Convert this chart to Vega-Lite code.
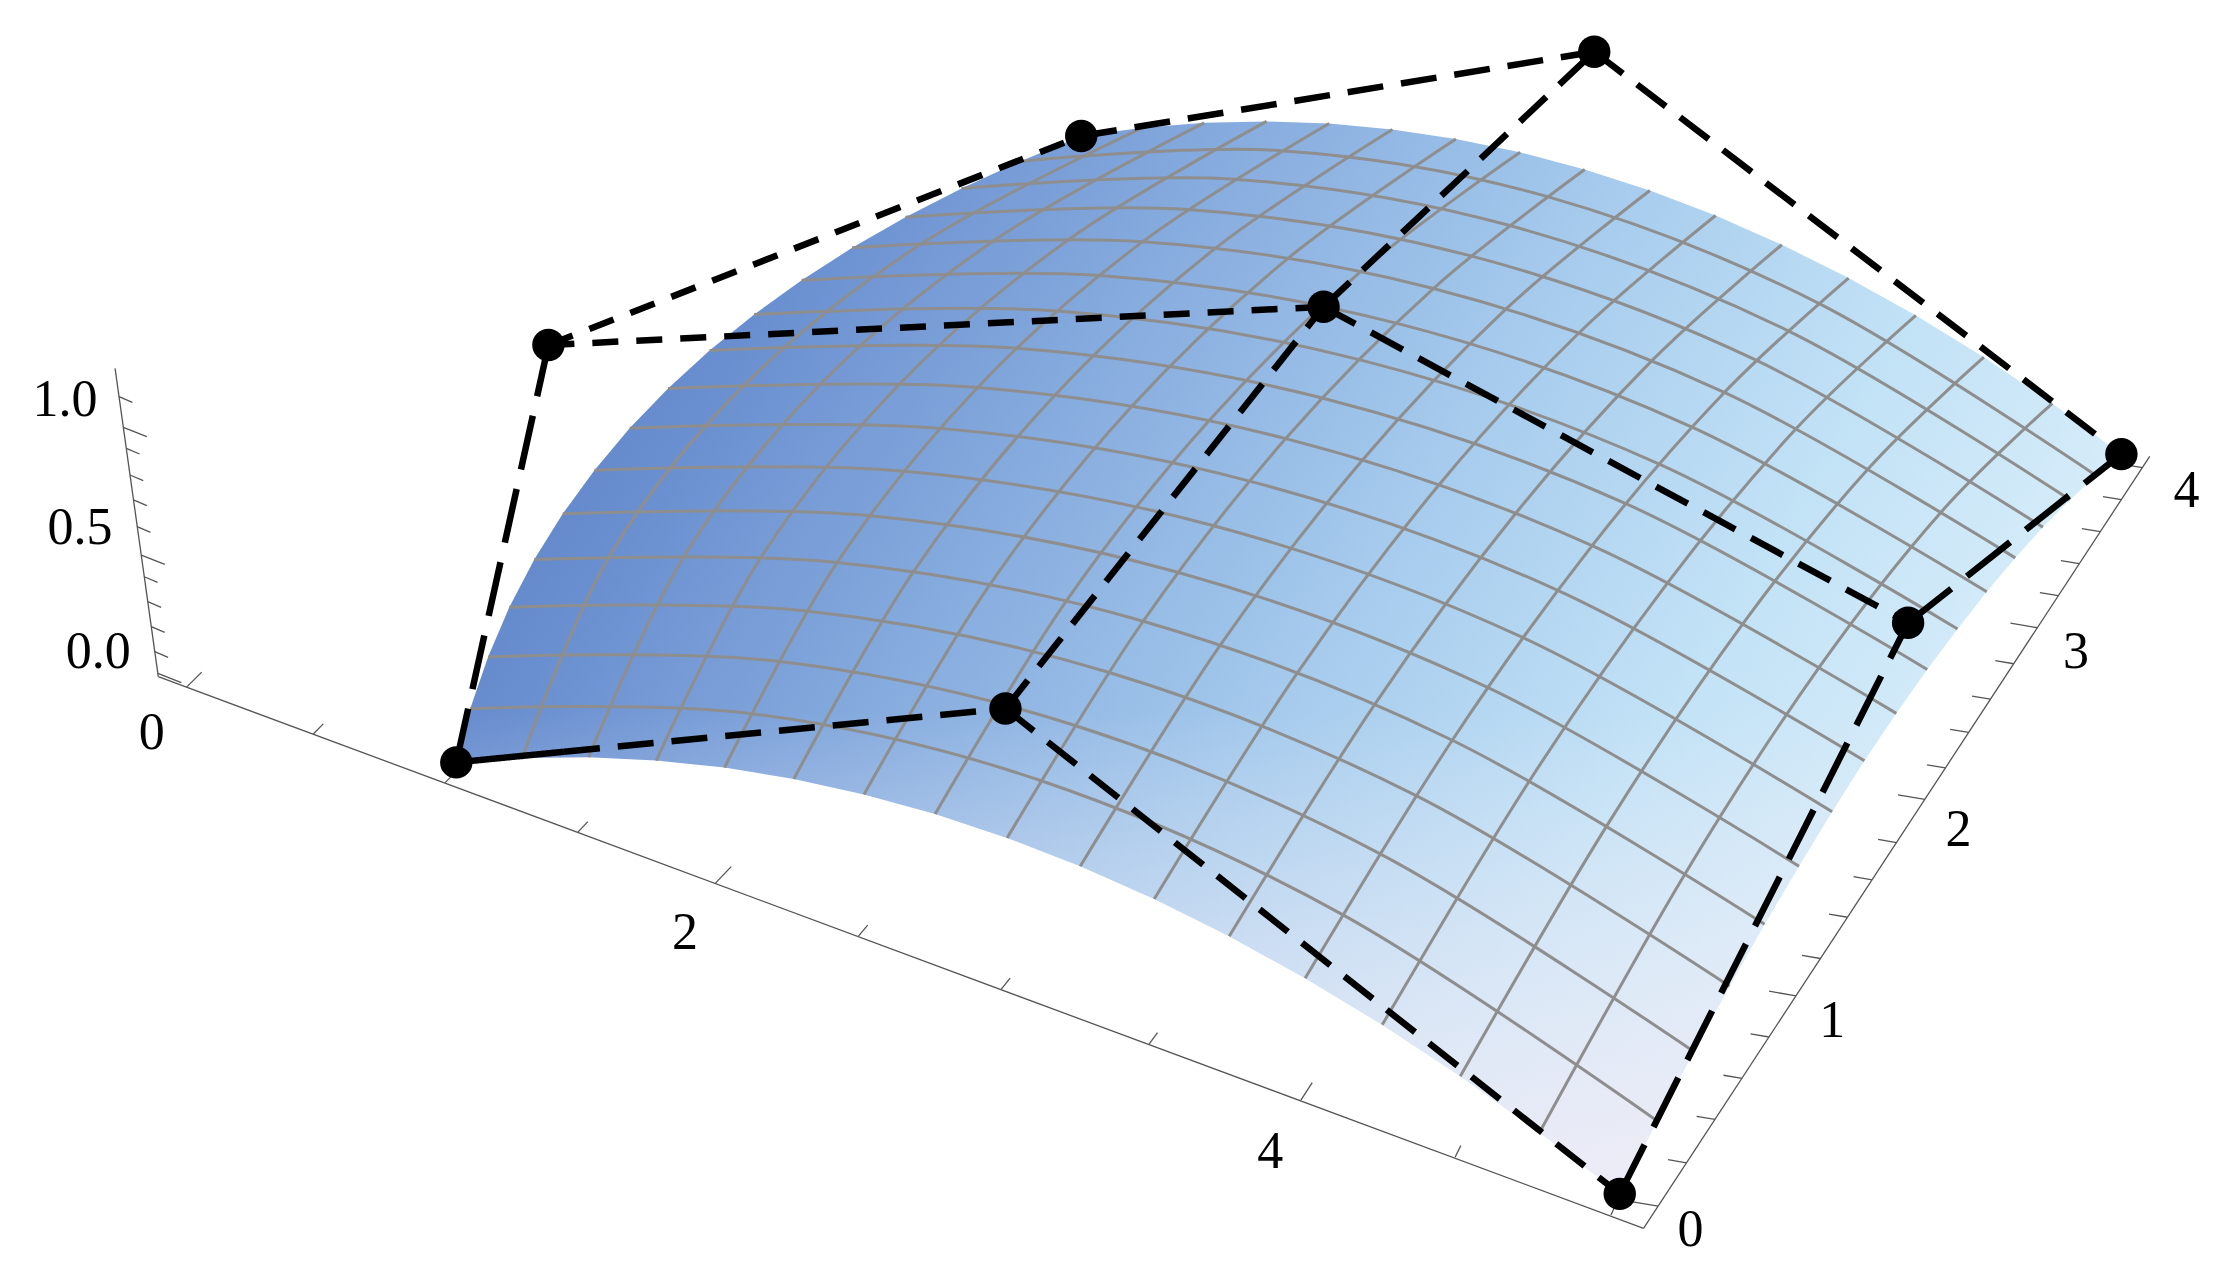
{
  "$schema": "https://vega.github.io/schema/vega-lite/v6.json",
  "width": 2222,
  "height": 1266,
  "padding": 0,
  "autosize": {"type": "none"},
  "background": "white",
  "config": {"view": {"stroke": null}},
  "datasets": {
    "surface": [
      {"o": 0, "x": 322, "y": 538}, {"o": 1, "x": 368.5, "y": 534.9}, {"o": 2, "x": 415.4, "y": 534.3},
      {"o": 3, "x": 463.1, "y": 536.7}, {"o": 4, "x": 511.3, "y": 541.7}, {"o": 5, "x": 560.2, "y": 549.7},
      {"o": 6, "x": 609.7, "y": 560.6}, {"o": 7, "x": 659.9, "y": 574.4}, {"o": 8, "x": 710.7, "y": 591.3},
      {"o": 9, "x": 762.3, "y": 611.3}, {"o": 10, "x": 814.5, "y": 634.4}, {"o": 11, "x": 867.4, "y": 660.7},
      {"o": 12, "x": 921.0, "y": 690.3}, {"o": 13, "x": 975.4, "y": 723.2}, {"o": 14, "x": 1030.5, "y": 759.5},
      {"o": 15, "x": 1086.4, "y": 799.2}, {"o": 16, "x": 1143, "y": 842.5}, {"o": 17, "x": 1169.4, "y": 791.0},
      {"o": 18, "x": 1195.3, "y": 742.1}, {"o": 19, "x": 1220.5, "y": 695.9}, {"o": 20, "x": 1245.2, "y": 652.3},
      {"o": 21, "x": 1269.5, "y": 611.3}, {"o": 22, "x": 1292.9, "y": 572.8}, {"o": 23, "x": 1315.7, "y": 536.8},
      {"o": 24, "x": 1338.2, "y": 503.4}, {"o": 25, "x": 1360.0, "y": 472.4}, {"o": 26, "x": 1381.4, "y": 443.9},
      {"o": 27, "x": 1402.0, "y": 417.6}, {"o": 28, "x": 1422.1, "y": 393.7}, {"o": 29, "x": 1441.6, "y": 372.0},
      {"o": 30, "x": 1460.8, "y": 352.7}, {"o": 31, "x": 1479.1, "y": 335.5}, {"o": 32, "x": 1497, "y": 320.5},
      {"o": 33, "x": 1448.3, "y": 284.7}, {"o": 34, "x": 1400.0, "y": 252.1}, {"o": 35, "x": 1352.0, "y": 222.6},
      {"o": 36, "x": 1304.5, "y": 196.2}, {"o": 37, "x": 1257.4, "y": 172.7}, {"o": 38, "x": 1210.7, "y": 152.1},
      {"o": 39, "x": 1164.3, "y": 134.4}, {"o": 40, "x": 1118.3, "y": 119.6}, {"o": 41, "x": 1072.7, "y": 107.5},
      {"o": 42, "x": 1027.4, "y": 98.1}, {"o": 43, "x": 982.6, "y": 91.4}, {"o": 44, "x": 938.0, "y": 87.2},
      {"o": 45, "x": 893.8, "y": 85.7}, {"o": 46, "x": 849.7, "y": 86.7}, {"o": 47, "x": 806.4, "y": 90.1},
      {"o": 48, "x": 763, "y": 96}, {"o": 49, "x": 719.8, "y": 113.9}, {"o": 50, "x": 678.5, "y": 133.0},
      {"o": 51, "x": 638.9, "y": 153.3}, {"o": 52, "x": 601.3, "y": 174.9}, {"o": 53, "x": 565.7, "y": 197.8},
      {"o": 54, "x": 532.2, "y": 221.9}, {"o": 55, "x": 500.7, "y": 247.4}, {"o": 56, "x": 471.4, "y": 274.2},
      {"o": 57, "x": 444.3, "y": 302.2}, {"o": 58, "x": 419.5, "y": 331.8}, {"o": 59, "x": 397.1, "y": 362.6},
      {"o": 60, "x": 377.0, "y": 394.9}, {"o": 61, "x": 359.4, "y": 428.5}, {"o": 62, "x": 344.4, "y": 463.6},
      {"o": 63, "x": 331.8, "y": 500.1}
    ],
    "grid": [
      {"id": "a1", "o": 0, "x": 368.5, "y": 534.9}, {"id": "a1", "o": 1, "x": 430.4, "y": 391.9}, {"id": "a1", "o": 2, "x": 526.2, "y": 270.7}, {"id": "a1", "o": 3, "x": 652.7, "y": 170.5}, {"id": "a1", "o": 4, "x": 806.4, "y": 90.1},
      {"id": "a2", "o": 0, "x": 415.4, "y": 534.3}, {"id": "a2", "o": 1, "x": 483.6, "y": 391.1}, {"id": "a2", "o": 2, "x": 580.7, "y": 269.4}, {"id": "a2", "o": 3, "x": 703.8, "y": 168.2}, {"id": "a2", "o": 4, "x": 849.7, "y": 86.7},
      {"id": "a3", "o": 0, "x": 463.1, "y": 536.7}, {"id": "a3", "o": 1, "x": 537.3, "y": 392.8}, {"id": "a3", "o": 2, "x": 635.5, "y": 270.3}, {"id": "a3", "o": 3, "x": 755.2, "y": 168.3}, {"id": "a3", "o": 4, "x": 893.8, "y": 85.7},
      {"id": "a4", "o": 0, "x": 511.3, "y": 541.7}, {"id": "a4", "o": 1, "x": 590.8, "y": 396.9}, {"id": "a4", "o": 2, "x": 689.9, "y": 273.4}, {"id": "a4", "o": 3, "x": 806.4, "y": 170.5}, {"id": "a4", "o": 4, "x": 938.0, "y": 87.2},
      {"id": "a5", "o": 0, "x": 560.2, "y": 549.7}, {"id": "a5", "o": 1, "x": 644.6, "y": 403.4}, {"id": "a5", "o": 2, "x": 744.4, "y": 278.9}, {"id": "a5", "o": 3, "x": 857.7, "y": 175.2}, {"id": "a5", "o": 4, "x": 982.6, "y": 91.4},
      {"id": "a6", "o": 0, "x": 609.7, "y": 560.6}, {"id": "a6", "o": 1, "x": 698.5, "y": 412.5}, {"id": "a6", "o": 2, "x": 798.7, "y": 286.7}, {"id": "a6", "o": 3, "x": 908.9, "y": 182.3}, {"id": "a6", "o": 4, "x": 1027.4, "y": 98.1},
      {"id": "a7", "o": 0, "x": 659.9, "y": 574.4}, {"id": "a7", "o": 1, "x": 752.5, "y": 424.1}, {"id": "a7", "o": 2, "x": 853.1, "y": 296.9}, {"id": "a7", "o": 3, "x": 960.2, "y": 191.7}, {"id": "a7", "o": 4, "x": 1072.7, "y": 107.5},
      {"id": "a8", "o": 0, "x": 710.7, "y": 591.3}, {"id": "a8", "o": 1, "x": 806.7, "y": 438.4}, {"id": "a8", "o": 2, "x": 907.3, "y": 309.5}, {"id": "a8", "o": 3, "x": 1011.5, "y": 203.6}, {"id": "a8", "o": 4, "x": 1118.3, "y": 119.6},
      {"id": "a9", "o": 0, "x": 762.3, "y": 611.3}, {"id": "a9", "o": 1, "x": 861.1, "y": 455.3}, {"id": "a9", "o": 2, "x": 961.5, "y": 324.6}, {"id": "a9", "o": 3, "x": 1062.8, "y": 218.0}, {"id": "a9", "o": 4, "x": 1164.3, "y": 134.4},
      {"id": "a10", "o": 0, "x": 814.5, "y": 634.4}, {"id": "a10", "o": 1, "x": 915.5, "y": 474.9}, {"id": "a10", "o": 2, "x": 1015.5, "y": 342.1}, {"id": "a10", "o": 3, "x": 1114.2, "y": 235.0}, {"id": "a10", "o": 4, "x": 1210.7, "y": 152.1},
      {"id": "a11", "o": 0, "x": 867.4, "y": 660.7}, {"id": "a11", "o": 1, "x": 970.0, "y": 497.2}, {"id": "a11", "o": 2, "x": 1069.5, "y": 362.4}, {"id": "a11", "o": 3, "x": 1165.5, "y": 254.7}, {"id": "a11", "o": 4, "x": 1257.4, "y": 172.7},
      {"id": "a12", "o": 0, "x": 921.0, "y": 690.3}, {"id": "a12", "o": 1, "x": 1024.8, "y": 522.4}, {"id": "a12", "o": 2, "x": 1123.4, "y": 385.2}, {"id": "a12", "o": 3, "x": 1216.8, "y": 277.0}, {"id": "a12", "o": 4, "x": 1304.5, "y": 196.2},
      {"id": "a13", "o": 0, "x": 975.4, "y": 723.2}, {"id": "a13", "o": 1, "x": 1079.7, "y": 550.4}, {"id": "a13", "o": 2, "x": 1177.3, "y": 410.6}, {"id": "a13", "o": 3, "x": 1268.1, "y": 301.9}, {"id": "a13", "o": 4, "x": 1352.0, "y": 222.6},
      {"id": "a14", "o": 0, "x": 1030.5, "y": 759.5}, {"id": "a14", "o": 1, "x": 1134.7, "y": 581.4}, {"id": "a14", "o": 2, "x": 1231.0, "y": 438.7}, {"id": "a14", "o": 3, "x": 1319.5, "y": 329.6}, {"id": "a14", "o": 4, "x": 1400.0, "y": 252.1},
      {"id": "a15", "o": 0, "x": 1086.4, "y": 799.2}, {"id": "a15", "o": 1, "x": 1189.9, "y": 615.3}, {"id": "a15", "o": 2, "x": 1284.7, "y": 469.6}, {"id": "a15", "o": 3, "x": 1370.8, "y": 360.2}, {"id": "a15", "o": 4, "x": 1448.3, "y": 284.7},
      {"id": "b1", "o": 0, "x": 331.8, "y": 500.1}, {"id": "b1", "o": 1, "x": 529.2, "y": 503.5}, {"id": "b1", "o": 2, "x": 734.2, "y": 550.8}, {"id": "b1", "o": 3, "x": 947.4, "y": 645.4}, {"id": "b1", "o": 4, "x": 1169.4, "y": 791.0},
      {"id": "b2", "o": 0, "x": 344.4, "y": 463.6}, {"id": "b2", "o": 1, "x": 548.5, "y": 466.6}, {"id": "b2", "o": 2, "x": 758.1, "y": 511.8}, {"id": "b2", "o": 3, "x": 973.6, "y": 602.4}, {"id": "b2", "o": 4, "x": 1195.3, "y": 742.1},
      {"id": "b3", "o": 0, "x": 359.4, "y": 428.5}, {"id": "b3", "o": 1, "x": 569.0, "y": 431.1}, {"id": "b3", "o": 2, "x": 782.2, "y": 474.4}, {"id": "b3", "o": 3, "x": 999.3, "y": 561.5}, {"id": "b3", "o": 4, "x": 1220.5, "y": 695.9},
      {"id": "b4", "o": 0, "x": 377.0, "y": 394.9}, {"id": "b4", "o": 1, "x": 590.8, "y": 396.9}, {"id": "b4", "o": 2, "x": 806.7, "y": 438.4}, {"id": "b4", "o": 3, "x": 1024.8, "y": 522.4}, {"id": "b4", "o": 4, "x": 1245.2, "y": 652.3},
      {"id": "b5", "o": 0, "x": 397.1, "y": 362.6}, {"id": "b5", "o": 1, "x": 613.9, "y": 364.0}, {"id": "b5", "o": 2, "x": 831.6, "y": 404.0}, {"id": "b5", "o": 3, "x": 1050.1, "y": 485.3}, {"id": "b5", "o": 4, "x": 1269.5, "y": 611.3},
      {"id": "b6", "o": 0, "x": 419.5, "y": 331.8}, {"id": "b6", "o": 1, "x": 638.1, "y": 332.6}, {"id": "b6", "o": 2, "x": 856.5, "y": 371.0}, {"id": "b6", "o": 3, "x": 1074.8, "y": 450.0}, {"id": "b6", "o": 4, "x": 1292.9, "y": 572.8},
      {"id": "b7", "o": 0, "x": 444.3, "y": 302.2}, {"id": "b7", "o": 1, "x": 663.4, "y": 302.3}, {"id": "b7", "o": 2, "x": 881.7, "y": 339.5}, {"id": "b7", "o": 3, "x": 1099.2, "y": 416.6}, {"id": "b7", "o": 4, "x": 1315.7, "y": 536.8},
      {"id": "b8", "o": 0, "x": 471.4, "y": 274.2}, {"id": "b8", "o": 1, "x": 689.9, "y": 273.5}, {"id": "b8", "o": 2, "x": 907.3, "y": 309.5}, {"id": "b8", "o": 3, "x": 1123.5, "y": 385.1}, {"id": "b8", "o": 4, "x": 1338.2, "y": 503.4},
      {"id": "b9", "o": 0, "x": 500.7, "y": 247.4}, {"id": "b9", "o": 1, "x": 717.5, "y": 245.8}, {"id": "b9", "o": 2, "x": 933.1, "y": 280.9}, {"id": "b9", "o": 3, "x": 1147.3, "y": 355.4}, {"id": "b9", "o": 4, "x": 1360.0, "y": 472.4},
      {"id": "b10", "o": 0, "x": 532.2, "y": 221.9}, {"id": "b10", "o": 1, "x": 746.2, "y": 219.5}, {"id": "b10", "o": 2, "x": 959.1, "y": 253.8}, {"id": "b10", "o": 3, "x": 1170.9, "y": 327.5}, {"id": "b10", "o": 4, "x": 1381.4, "y": 443.9},
      {"id": "b11", "o": 0, "x": 565.7, "y": 197.8}, {"id": "b11", "o": 1, "x": 775.8, "y": 194.4}, {"id": "b11", "o": 2, "x": 985.2, "y": 228.0}, {"id": "b11", "o": 3, "x": 1194.0, "y": 301.4}, {"id": "b11", "o": 4, "x": 1402.0, "y": 417.6},
      {"id": "b12", "o": 0, "x": 601.3, "y": 174.9}, {"id": "b12", "o": 1, "x": 806.4, "y": 170.6}, {"id": "b12", "o": 2, "x": 1011.5, "y": 203.6}, {"id": "b12", "o": 3, "x": 1216.8, "y": 276.9}, {"id": "b12", "o": 4, "x": 1422.1, "y": 393.7},
      {"id": "b13", "o": 0, "x": 638.9, "y": 153.3}, {"id": "b13", "o": 1, "x": 837.9, "y": 147.9}, {"id": "b13", "o": 2, "x": 1038.0, "y": 180.6}, {"id": "b13", "o": 3, "x": 1239.2, "y": 254.2}, {"id": "b13", "o": 4, "x": 1441.6, "y": 372.0},
      {"id": "b14", "o": 0, "x": 678.5, "y": 133.0}, {"id": "b14", "o": 1, "x": 870.5, "y": 126.5}, {"id": "b14", "o": 2, "x": 1064.8, "y": 159.0}, {"id": "b14", "o": 3, "x": 1261.5, "y": 233.3}, {"id": "b14", "o": 4, "x": 1460.8, "y": 352.7},
      {"id": "b15", "o": 0, "x": 719.8, "y": 113.9}, {"id": "b15", "o": 1, "x": 903.8, "y": 106.3}, {"id": "b15", "o": 2, "x": 1091.4, "y": 138.6}, {"id": "b15", "o": 3, "x": 1283.1, "y": 213.9}, {"id": "b15", "o": 4, "x": 1479.1, "y": 335.5}
    ],
    "frame": [
      {"id": "zax", "o": 0, "x": 81.2, "y": 259.9}, {"id": "zax", "o": 1, "x": 111.7, "y": 477.5},
      {"id": "xax", "o": 0, "x": 111.7, "y": 477.5}, {"id": "xax", "o": 1, "x": 1159.8, "y": 866.8},
      {"id": "yax", "o": 0, "x": 1159.8, "y": 866.8}, {"id": "yax", "o": 1, "x": 1517, "y": 322},
      {"id": "zt0", "o": 0, "x": 111.4, "y": 475.2}, {"id": "zt0", "o": 1, "x": 128.0, "y": 481.7},
      {"id": "zt1", "o": 0, "x": 109.2, "y": 459.9}, {"id": "zt1", "o": 1, "x": 118.6, "y": 463.9},
      {"id": "zt2", "o": 0, "x": 106.8, "y": 442.2}, {"id": "zt2", "o": 1, "x": 116.2, "y": 446.2},
      {"id": "zt3", "o": 0, "x": 104.3, "y": 424.6}, {"id": "zt3", "o": 1, "x": 113.7, "y": 428.6},
      {"id": "zt4", "o": 0, "x": 101.8, "y": 407.0}, {"id": "zt4", "o": 1, "x": 111.2, "y": 411.0},
      {"id": "zt5", "o": 0, "x": 99.7, "y": 391.7}, {"id": "zt5", "o": 1, "x": 116.3, "y": 398.2},
      {"id": "zt6", "o": 0, "x": 96.8, "y": 371.7}, {"id": "zt6", "o": 1, "x": 106.2, "y": 375.7},
      {"id": "zt7", "o": 0, "x": 94.2, "y": 352.8}, {"id": "zt7", "o": 1, "x": 103.6, "y": 356.8},
      {"id": "zt8", "o": 0, "x": 91.7, "y": 335.2}, {"id": "zt8", "o": 1, "x": 101.1, "y": 339.2},
      {"id": "zt9", "o": 0, "x": 89.1, "y": 316.4}, {"id": "zt9", "o": 1, "x": 98.5, "y": 320.4},
      {"id": "zt10", "o": 0, "x": 87.0, "y": 301.6}, {"id": "zt10", "o": 1, "x": 103.6, "y": 308.1},
      {"id": "zt11", "o": 0, "x": 84.0, "y": 279.9}, {"id": "zt11", "o": 1, "x": 93.4, "y": 283.9},
      {"id": "xt0", "o": 0, "x": 131.7, "y": 484.9}, {"id": "xt0", "o": 1, "x": 142.3, "y": 474.3},
      {"id": "xt1", "o": 0, "x": 221.1, "y": 518.0}, {"id": "xt1", "o": 1, "x": 228.1, "y": 510.8},
      {"id": "xt2", "o": 0, "x": 314.0, "y": 552.5}, {"id": "xt2", "o": 1, "x": 321.0, "y": 545.2},
      {"id": "xt3", "o": 0, "x": 407.8, "y": 587.2}, {"id": "xt3", "o": 1, "x": 414.8, "y": 579.8},
      {"id": "xt4", "o": 0, "x": 504.9, "y": 623.2}, {"id": "xt4", "o": 1, "x": 516.0, "y": 611.6},
      {"id": "xt5", "o": 0, "x": 605.8, "y": 660.6}, {"id": "xt5", "o": 1, "x": 612.3, "y": 652.9},
      {"id": "xt6", "o": 0, "x": 706.6, "y": 698.0}, {"id": "xt6", "o": 1, "x": 712.8, "y": 690.2},
      {"id": "xt7", "o": 0, "x": 811.0, "y": 736.7}, {"id": "xt7", "o": 1, "x": 816.8, "y": 728.7},
      {"id": "xt8", "o": 0, "x": 918.0, "y": 776.3}, {"id": "xt8", "o": 1, "x": 926.0, "y": 764.0},
      {"id": "xt9", "o": 0, "x": 1026.8, "y": 816.6}, {"id": "xt9", "o": 1, "x": 1030.9, "y": 808.4},
      {"id": "xt10", "o": 0, "x": 1136.8, "y": 857.4}, {"id": "xt10", "o": 1, "x": 1140.5, "y": 849.3},
      {"id": "yt0", "o": 0, "x": 1170.1, "y": 851.1}, {"id": "yt0", "o": 1, "x": 1151.1, "y": 847.9},
      {"id": "yt1", "o": 0, "x": 1190.1, "y": 820.6}, {"id": "yt1", "o": 1, "x": 1177.1, "y": 818.4},
      {"id": "yt2", "o": 0, "x": 1210.2, "y": 790.0}, {"id": "yt2", "o": 1, "x": 1197.2, "y": 787.8},
      {"id": "yt3", "o": 0, "x": 1229.2, "y": 761.0}, {"id": "yt3", "o": 1, "x": 1216.2, "y": 758.8},
      {"id": "yt4", "o": 0, "x": 1248.3, "y": 731.8}, {"id": "yt4", "o": 1, "x": 1235.3, "y": 729.6},
      {"id": "yt5", "o": 0, "x": 1267.4, "y": 702.7}, {"id": "yt5", "o": 1, "x": 1248.4, "y": 699.5},
      {"id": "yt6", "o": 0, "x": 1284.6, "y": 676.4}, {"id": "yt6", "o": 1, "x": 1271.6, "y": 674.2},
      {"id": "yt7", "o": 0, "x": 1303.7, "y": 647.3}, {"id": "yt7", "o": 1, "x": 1290.7, "y": 645.1},
      {"id": "yt8", "o": 0, "x": 1321.0, "y": 620.9}, {"id": "yt8", "o": 1, "x": 1308.0, "y": 618.7},
      {"id": "yt9", "o": 0, "x": 1338.3, "y": 594.6}, {"id": "yt9", "o": 1, "x": 1325.3, "y": 592.4},
      {"id": "yt10", "o": 0, "x": 1358.3, "y": 564.1}, {"id": "yt10", "o": 1, "x": 1339.3, "y": 560.9},
      {"id": "yt11", "o": 0, "x": 1372.8, "y": 541.9}, {"id": "yt11", "o": 1, "x": 1359.8, "y": 539.7},
      {"id": "yt12", "o": 0, "x": 1389.2, "y": 516.9}, {"id": "yt12", "o": 1, "x": 1376.2, "y": 514.7},
      {"id": "yt13", "o": 0, "x": 1404.6, "y": 493.4}, {"id": "yt13", "o": 1, "x": 1391.6, "y": 491.2},
      {"id": "yt14", "o": 0, "x": 1421.0, "y": 468.4}, {"id": "yt14", "o": 1, "x": 1408.0, "y": 466.2},
      {"id": "yt15", "o": 0, "x": 1437.7, "y": 443.0}, {"id": "yt15", "o": 1, "x": 1418.7, "y": 439.8},
      {"id": "yt16", "o": 0, "x": 1452.5, "y": 420.4}, {"id": "yt16", "o": 1, "x": 1439.5, "y": 418.2},
      {"id": "yt17", "o": 0, "x": 1467.3, "y": 397.8}, {"id": "yt17", "o": 1, "x": 1454.3, "y": 395.6},
      {"id": "yt18", "o": 0, "x": 1482.1, "y": 375.2}, {"id": "yt18", "o": 1, "x": 1469.1, "y": 373.0},
      {"id": "yt19", "o": 0, "x": 1497.0, "y": 352.6}, {"id": "yt19", "o": 1, "x": 1484.0, "y": 350.4},
      {"id": "yt20", "o": 0, "x": 1511.8, "y": 330.0}, {"id": "yt20", "o": 1, "x": 1492.8, "y": 326.8}
    ],
    "net": [
      {"id": "e0", "o": 0, "d": "n", "x": 322, "y": 538}, {"id": "e0", "o": 1, "d": "n", "x": 398, "y": 530.5},
      {"id": "e1", "o": 0, "d": "m", "x": 398, "y": 530.5}, {"id": "e1", "o": 1, "d": "m", "x": 709.5, "y": 500},
      {"id": "e2", "o": 0, "d": "m", "x": 709.5, "y": 500}, {"id": "e2", "o": 1, "d": "m", "x": 1143, "y": 842.5},
      {"id": "e3", "o": 0, "d": "s", "x": 387, "y": 243.5}, {"id": "e3", "o": 1, "d": "s", "x": 934, "y": 216.5},
      {"id": "e4", "o": 0, "d": "m", "x": 934, "y": 216.5}, {"id": "e4", "o": 1, "d": "m", "x": 1346.5, "y": 439.5},
      {"id": "e5", "o": 0, "d": "m", "x": 763, "y": 96}, {"id": "e5", "o": 1, "d": "m", "x": 1125, "y": 36.5},
      {"id": "e6", "o": 0, "d": "m", "x": 1125, "y": 36.5}, {"id": "e6", "o": 1, "d": "m", "x": 1497, "y": 320.5},
      {"id": "e7", "o": 0, "d": "l", "x": 322, "y": 538}, {"id": "e7", "o": 1, "d": "l", "x": 387, "y": 243.5},
      {"id": "e8", "o": 0, "d": "s", "x": 387, "y": 243.5}, {"id": "e8", "o": 1, "d": "s", "x": 763, "y": 96},
      {"id": "e9", "o": 0, "d": "m", "x": 709.5, "y": 500}, {"id": "e9", "o": 1, "d": "m", "x": 934, "y": 216.5},
      {"id": "e10", "o": 0, "d": "m", "x": 934, "y": 216.5}, {"id": "e10", "o": 1, "d": "m", "x": 1125, "y": 36.5},
      {"id": "e11", "o": 0, "d": "l", "x": 1143, "y": 842.5}, {"id": "e11", "o": 1, "d": "l", "x": 1346.5, "y": 439.5},
      {"id": "e12", "o": 0, "d": "l", "x": 1346.5, "y": 439.5}, {"id": "e12", "o": 1, "d": "l", "x": 1497, "y": 320.5}
    ],
    "pts": [
      {"x": 322, "y": 538}, {"x": 387, "y": 243.5}, {"x": 763, "y": 96},
      {"x": 709.5, "y": 500}, {"x": 934, "y": 216.5}, {"x": 1125, "y": 36.5},
      {"x": 1143, "y": 842.5}, {"x": 1346.5, "y": 439.5}, {"x": 1497, "y": 320.5}
    ],
    "labels": [
      {"t": "1.0", "x": 45.9, "y": 282.3}, {"t": "0.5", "x": 56.5, "y": 372.8}, {"t": "0.0", "x": 69.4, "y": 459.9},
      {"t": "0", "x": 107, "y": 517.5}, {"t": "2", "x": 483.4, "y": 658.6}, {"t": "4", "x": 896.4, "y": 812.7},
      {"t": "0", "x": 1193, "y": 868}, {"t": "1", "x": 1293, "y": 720.5}, {"t": "2", "x": 1382, "y": 586},
      {"t": "3", "x": 1465, "y": 460}, {"t": "4", "x": 1543, "y": 346.5}
    ]
  },
  "encoding": {
    "x": {"field": "x", "type": "quantitative", "scale": {"domain": [0, 1568], "nice": false, "zero": false}, "axis": null},
    "y": {"field": "y", "type": "quantitative", "scale": {"domain": [0, 893.4], "nice": false, "zero": false, "reverse": true}, "axis": null}
  },
  "layer": [
    {
      "data": {"name": "frame"},
      "mark": {"type": "line", "stroke": "#555555", "strokeWidth": 1.3},
      "encoding": {"detail": {"field": "id", "type": "nominal"}, "order": {"field": "o", "type": "quantitative"}}
    },
    {
      "data": {"name": "surface"},
      "mark": {
        "type": "line",
        "interpolate": "linear-closed",
        "strokeOpacity": 0,
        "fill": {
          "gradient": "linear",
          "x1": 0, "y1": 0.2, "x2": 1, "y2": 0.6,
          "stops": [
            {"offset": 0, "color": "#5a7dc4"},
            {"offset": 0.15, "color": "#6a8fd0"},
            {"offset": 0.35, "color": "#88addf"},
            {"offset": 0.55, "color": "#a6cbed"},
            {"offset": 0.75, "color": "#c2e2f6"},
            {"offset": 1, "color": "#e2f2fb"}
          ]
        }
      },
      "encoding": {"order": {"field": "o", "type": "quantitative"}}
    },
    {
      "data": {"name": "surface"},
      "mark": {
        "type": "line",
        "interpolate": "linear-closed",
        "strokeOpacity": 0,
        "fill": {
          "gradient": "linear",
          "x1": 0.5, "y1": 0, "x2": 0.5, "y2": 1,
          "stops": [
            {"offset": 0, "color": "rgba(240,236,246,0)"},
            {"offset": 0.55, "color": "rgba(240,236,246,0)"},
            {"offset": 1, "color": "rgba(240,236,246,0.9)"}
          ]
        }
      },
      "encoding": {"order": {"field": "o", "type": "quantitative"}}
    },
    {
      "data": {"name": "grid"},
      "mark": {"type": "line", "interpolate": "cardinal", "stroke": "#8e8e8e", "strokeWidth": 3},
      "encoding": {"detail": {"field": "id", "type": "nominal"}, "order": {"field": "o", "type": "quantitative"}}
    },
    {
      "data": {"name": "net"},
      "mark": {"type": "line", "stroke": "black", "strokeWidth": 6.5, "strokeCap": "butt"},
      "encoding": {
        "detail": {"field": "id", "type": "nominal"},
        "order": {"field": "o", "type": "quantitative"},
        "strokeDash": {
          "field": "d", "type": "nominal",
          "scale": {"domain": ["n", "s", "m", "l"], "range": [[1, 0], [26, 18], [36, 18], [55, 20]]},
          "legend": null
        }
      }
    },
    {
      "data": {"name": "pts"},
      "mark": {"type": "circle", "size": 1050, "color": "black", "opacity": 1}
    },
    {
      "data": {"name": "labels"},
      "mark": {"type": "text", "font": "Liberation Serif", "fontSize": 52, "align": "center", "baseline": "middle", "color": "#000000"},
      "encoding": {"text": {"field": "t", "type": "nominal"}}
    }
  ]
}
